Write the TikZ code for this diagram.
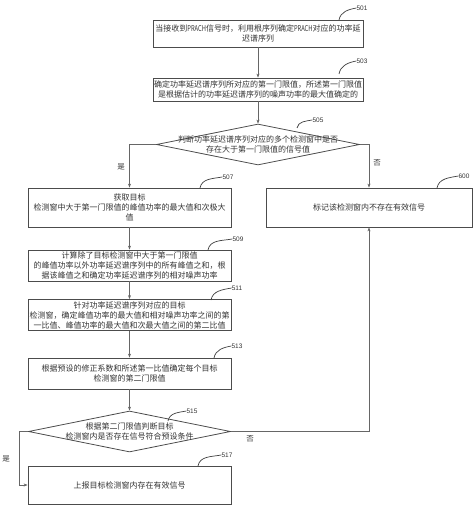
\documentclass[tikz,border=0pt]{standalone}
\usepackage{fontspec}
\usepackage{graphicx}
\newfontfamily\cjk{Noto Sans CJK SC}
\newfontfamily\lat{Liberation Sans}
\usetikzlibrary{arrows.meta,shapes.geometric}
\newcommand{\PR}{\scalebox{0.72}[1]{PRACH}}
\begin{document}
\begin{tikzpicture}[x=1pt,y=-1pt,
  stepbox/.style={draw=black!70,line width=0.8pt,rectangle,inner sep=0pt,align=center,
    font=\cjk\fontsize{8}{10}\selectfont,text=black!80,minimum width=203pt},
  dia/.style={draw=black!70,line width=0.8pt,diamond,inner sep=0pt},
  dtext/.style={align=center,font=\cjk\fontsize{8}{10}\selectfont,text=black!80,inner sep=0pt},
  conn/.style={draw=black!60,line width=0.6pt,-{Stealth[length=4pt,width=3pt]}},
  lead/.style={draw=black!75,line width=0.7pt},
  num/.style={font=\lat\fontsize{6.5}{8}\selectfont,text=black!80,inner sep=0pt},
  yn/.style={font=\cjk\fontsize{7.5}{9}\selectfont,text=black!80,inner sep=0pt}]
\useasboundingbox (0,0) rectangle (474,508);

% boxes
\node[stepbox,minimum width=210pt,minimum height=27pt] (b501) at (258,33.5)
  {当接收到\PR{}信号时，利用根序列确定\PR{}对应的功率延\\迟谱序列};
\node[stepbox,minimum width=210pt,minimum height=23pt] (b503) at (258,89.5)
  {确定功率延迟谱序列所对应的第一门限值，所述第一门限值\\是根据估计的功率延迟谱序列的噪声功率的最大值确定的};
\node[dia,minimum width=203pt,minimum height=41pt] (d505) at (258,144.5) {};
\node[dtext] (t505) at (d505) {判断功率延迟谱序列对应的多个检测窗中是否\\存在大于第一门限值的信号值};
\node[stepbox,minimum height=39pt] (b507) at (129.5,207.5)
  {获取目标\\检测窗中大于第一门限值的峰值功率的最大值和次极大\\值};
\node[stepbox,minimum width=206pt,minimum height=39pt] (b600) at (369,207.5)
  {标记该检测窗内不存在有效信号};
\node[stepbox,minimum height=31pt] (b509) at (129.5,265.5)
  {计算除了目标检测窗中大于第一门限值\\的峰值功率以外功率延迟谱序列中的所有峰值之和，根\\据该峰值之和确定功率延迟谱序列的相对噪声功率};
\node[stepbox,minimum height=31pt] (b511) at (129.5,315)
  {针对功率延迟谱序列对应的目标\\检测窗，确定峰值功率的最大值和相对噪声功率之间的第\\一比值、峰值功率的最大值和次最大值之间的第二比值};
\node[stepbox,minimum height=31pt] (b513) at (129.5,373.5)
  {根据预设的修正系数和所述第一比值确定每个目标\\检测窗的第二门限值};
\node[dia,minimum width=202pt,minimum height=41pt] (d515) at (129.5,431.5) {};
\node[dtext] (t515) at (d515) {根据第二门限值判断目标\\检测窗内是否存在信号符合预设条件};
\node[stepbox,minimum height=38pt] (b517) at (129.5,485)
  {上报目标检测窗内存在有效信号};

% connectors
\draw[conn] (b501) -- (b503);
\draw[conn] (b503) -- (d505);
\draw[conn] (d505.west) -| (b507.north);
\draw[conn] (d505.east) -| (b600.north);
\draw[conn] (b507) -- (b509);
\draw[conn] (b509) -- (b511);
\draw[conn] (b511) -- (b513);
\draw[conn] (b513) -- (d515);
\draw[conn] (d515.west) -- ++(-9,0) |- (b517.west);
\draw[conn] (d515.east) -| (b600.south);

% yes/no labels
\node[yn] (y1) at (121,167) {是};
\node[yn] (n1) at (377,163) {否};
\node[yn] (n2) at (250,439) {否};
\node[yn] (y2) at (6,459) {是};

% step numbers with leaders
\node[num] (l501) at (362,8) {501};
\coordinate (s501) at (339,20);
\draw[lead] (s501) to[out=80,in=190] (l501.west);
\node[num] (l503) at (362,61) {503};
\coordinate (s503) at (339,74);
\draw[lead] (s503) to[out=80,in=190] (l503.west);
\node[num] (l505) at (318,120) {505};
\coordinate (s505) at (297,128);
\draw[lead] (s505) to[out=80,in=190] (l505.west);
\node[num] (l507) at (228,177) {507};
\coordinate (s507) at (200,188);
\draw[lead] (s507) to[out=80,in=190] (l507.west);
\node[num] (l600) at (464,176) {600};
\coordinate (s600) at (437,188);
\draw[lead] (s600) to[out=80,in=190] (l600.west);
\node[num] (l509) at (238,239) {509};
\coordinate (s509) at (208,250);
\draw[lead] (s509) to[out=80,in=190] (l509.west);
\node[num] (l511) at (237,288) {511};
\coordinate (s511) at (211,300);
\draw[lead] (s511) to[out=80,in=190] (l511.west);
\node[num] (l513) at (237,346) {513};
\coordinate (s513) at (214,358);
\draw[lead] (s513) to[out=80,in=190] (l513.west);
\node[num] (l515) at (192,411) {515};
\coordinate (s515) at (168,421);
\draw[lead] (s515) to[out=80,in=190] (l515.west);
\node[num] (l517) at (227,455) {517};
\coordinate (s517) at (198,466);
\draw[lead] (s517) to[out=80,in=190] (l517.west);
\end{tikzpicture}
\end{document}
